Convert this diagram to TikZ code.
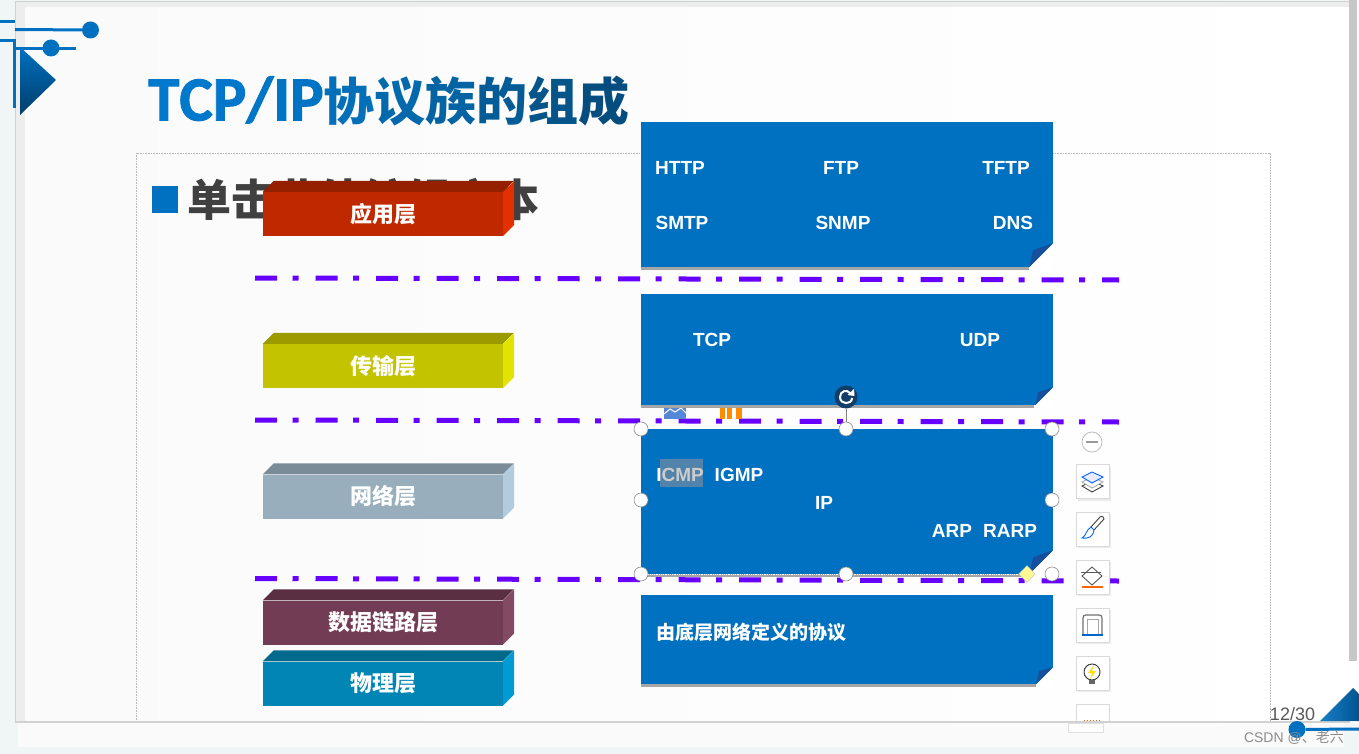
\documentclass[tikz,border=0pt]{standalone}
\usepackage{amssymb,amsmath}
\usepackage{fontspec}
\usepackage{tikz}
\usepackage{color,colortbl}
\usetikzlibrary{shadows,shapes.geometric}
\setmainfont{Liberation Sans}
\newfontfamily\cjk{Noto Sans CJK SC}
\newfontfamily\carlito[BoldFeatures={FakeBold=1.5}]{Carlito}
\definecolor{slidebg}{HTML}{FAFAFA}
\definecolor{outerbg}{HTML}{F0F5F6}
\definecolor{pptblue}{HTML}{0070C0}
\definecolor{foldblue}{HTML}{174F9C}
\definecolor{purpleline}{HTML}{6600FF}
\definecolor{bullettext}{HTML}{404040}
\tikzset{
	layerbox/.style={minimum width=240pt,minimum height=44pt,inner sep=0pt,text=white,font=\cjk\bfseries\fontsize{22}{22}\selectfont},
	protobox/.style={fill=pptblue,draw=none,minimum width=412pt,inner sep=0pt},
	proto/.style={anchor=base,inner sep=0pt,text=white,font=\bfseries\fontsize{19}{19}\selectfont},
	sepline/.style={draw=purpleline,line width=5pt,dash pattern=on 22pt off 15.5pt on 6pt off 17pt},
	handle/.style={circle,draw=black!45,fill=white,line width=0.6pt,minimum size=14pt,inner sep=0pt},
	toolbtn/.style={draw=black!15,fill=white,minimum width=33pt,minimum height=34pt,inner sep=0pt},
	blueline/.style={draw=pptblue,line width=3pt},
	iconline/.style={draw=black!75,line width=0.9pt},
}
\begin{document}
\begin{tikzpicture}[x=1pt,y=-1pt]
		\useasboundingbox (0,0) rectangle (1359,754);
		\fill[outerbg] (0,0) rectangle (1359,754);
		\fill[black!18] (14.5,1) rectangle (1350,722);
		\fill[black!7] (16,2) rectangle (1350,721);
		\shade[left color=slidebg,right color=white] (25,8) rectangle (1349,720);
		
		\fill[white] (1349,0) rectangle (1359,754);
		\fill[black!22] (1349,0) rectangle (1356.5,661);
		
		\coordinate (d1) at (0,22);
		\coordinate (d2) at (15,22);
		\coordinate (d3) at (0,41);
		\coordinate (d4) at (14,41);
		\coordinate (d5) at (14,108);
		\draw[blueline] (d1) -- (d2);
		\draw[blueline] (d3) -- (d4) -- (d5);
		\node[circle,fill=pptblue,minimum size=17pt,inner sep=0pt] (dot1) at (90.5,30) {};
		\node[circle,fill=pptblue,minimum size=17pt,inner sep=0pt] (dot2) at (51,48) {};
		\coordinate (d6) at (15,29.5);
		\coordinate (d7) at (15,48.5);
		\coordinate (d8) at (76,48.5);
		\draw[blueline] (d6) -- (dot1);
		\draw[blueline] (d7) -- (d8);
		\shade[top color=pptblue,bottom color=pptblue!55!black] (20,47) -- (56,80) -- (20,115) -- cycle;
		
		\draw[black!28,line width=0.6pt,densely dotted] (136,153) rectangle (1270,722);
		
		\node[anchor=base west,inner sep=0pt] (title) at (148,120.5) {\carlito\bfseries\fontsize{63}{63}\selectfont\color[HTML]{0078CE}T\color[HTML]{0078CC}C\color[HTML]{0077CA}P\color[HTML]{0076C8}/\color[HTML]{0075C6}I\color[HTML]{0074C4}P\cjk\bfseries\fontsize{51}{51}\selectfont\color[HTML]{026FB8}协\color[HTML]{0369AD}议\color[HTML]{0463A2}族\color[HTML]{045C96}的\color[HTML]{05558A}组\color[HTML]{054D7E}成};
		
		\node[fill=pptblue,minimum size=26pt,inner sep=0pt] (bullet) at (165,199.5) {};
		\node[anchor=base west,inner sep=0pt,text=bullettext,font=\cjk\bfseries\fontsize{44}{44}\selectfont] (body) at (187,216) {单击此处编辑文本};
		
		\node[layerbox,fill={rgb,255:red,192;green,40;blue,0}] (app) at (383,214) {应用层};
		\fill[fill={rgb,255:red,149;green,32;blue,0}] (app.north west) -- ++(11,-11) -- ++(240,0) -- ++(-11,11) -- cycle;
		\fill[fill={rgb,255:red,226;green,48;blue,0}] (app.north east) -- ++(11,-11) -- ++(0,44) -- ++(-11,11) -- cycle;
		
		\node[layerbox,fill={rgb,255:red,195;green,195;blue,0}] (trans) at (383,366) {传输层};
		\fill[fill={rgb,255:red,155;green,155;blue,0}] (trans.north west) -- ++(11,-11) -- ++(240,0) -- ++(-11,11) -- cycle;
		\fill[fill={rgb,255:red,227;green,227;blue,0}] (trans.north east) -- ++(11,-11) -- ++(0,44) -- ++(-11,11) -- cycle;
		
		\node[layerbox,fill={rgb,255:red,152;green,174;blue,189}] (net) at (383,496.5) {网络层};
		\fill[fill={rgb,255:red,122;green,140;blue,152}] (net.north west) -- ++(11,-11) -- ++(240,0) -- ++(-11,11) -- cycle;
		\fill[fill={rgb,255:red,178;green,204;blue,221}] (net.north east) -- ++(11,-11) -- ++(0,44) -- ++(-11,11) -- cycle;
		
		\node[layerbox,fill={rgb,255:red,115;green,60;blue,85}] (link) at (383,622.5) {数据链路层};
		\fill[fill={rgb,255:red,90;green,47;blue,66}] (link.north west) -- ++(11,-11) -- ++(240,0) -- ++(-11,11) -- cycle;
		\fill[fill={rgb,255:red,131;green,74;blue,99}] (link.north east) -- ++(11,-11) -- ++(0,44) -- ++(-11,11) -- cycle;
		
		\node[layerbox,fill={rgb,255:red,0;green,133;blue,181}] (phy) at (383,683.5) {物理层};
		\fill[fill={rgb,255:red,0;green,106;blue,141}] (phy.north west) -- ++(11,-11) -- ++(240,0) -- ++(-11,11) -- cycle;
		\fill[fill={rgb,255:red,0;green,155;blue,210}] (phy.north east) -- ++(11,-11) -- ++(0,44) -- ++(-11,11) -- cycle;
		
		\coordinate (s1a) at (255,278);
		\coordinate (s1b) at (1119,280);
		\coordinate (s2a) at (255,420);
		\coordinate (s2b) at (1119,422);
		\coordinate (s3a) at (255,578.5);
		\coordinate (s3b) at (1119,581);
		\draw[sepline] (s1a) -- (s1b);
		\draw[sepline] (s2a) -- (s2b);
		\draw[sepline] (s3a) -- (s3b);
		
		\fill[fill={rgb,255:red,86;green,134;blue,214}] (664,405) rectangle (686,419);
		\draw[white,line width=1pt] (664,414) -- (670,409) -- (675,412) -- (681,408) -- (686,413);
		\fill[orange!90!yellow] (720,406) rectangle (725,419);
		\fill[orange!90!yellow] (727,405) rectangle (732,419);
		\fill[orange!90!yellow] (736,407) rectangle (742,419);
		
		\node[protobox,minimum height=145pt] (b1) at (847,194.5) {};
		\node[protobox,minimum height=111pt] (b2) at (847,349.5) {};
		\node[protobox,minimum height=145pt] (b3) at (847,501.5) {};
		\node[protobox,minimum height=89pt] (b4) at (847,639.5) {};
		
		\fill[black!35] (b1.south west) rectangle ++(388,2.5);
		\fill[black!35] (b2.south west) rectangle ++(393,2.5);
		\fill[black!35] (b3.south west) rectangle ++(388,2.5);
		\fill[black!35] (b4.south west) rectangle ++(395,2.5);
		
		\fill[white] (b1.south east) ++(0,-24) -- ++(-24,24) -- ++(0,4) -- ++(24,0) -- cycle;
		\fill[foldblue] (b1.south east) ++(0,-24) -- ++(-24,24) -- ++(4,-17) -- cycle;
		\fill[white] (b2.south east) ++(0,-18) -- ++(-18,18) -- ++(0,4) -- ++(18,0) -- cycle;
		\fill[foldblue] (b2.south east) ++(0,-18) -- ++(-18,18) -- ++(3,-13) -- cycle;
		\fill[white] (b3.south east) ++(0,-24) -- ++(-24,24) -- ++(0,2) -- ++(24,0) -- cycle;
		\fill[foldblue] (b3.south east) ++(0,-24) -- ++(-24,24) -- ++(4,-17) -- cycle;
		\fill[white] (b4.south east) ++(0,-17) -- ++(-17,17) -- ++(0,4) -- ++(17,0) -- cycle;
		\fill[foldblue] (b4.south east) ++(0,-17) -- ++(-17,17) -- ++(3,-13) -- cycle;
		
		\node[proto] (http) at (680,174.5) {HTTP};
		\node[proto] (ftp) at (841,174.5) {FTP};
		\node[proto] (tftp) at (1006,174.5) {TFTP};
		\node[proto] (smtp) at (682,229.5) {SMTP};
		\node[proto] (snmp) at (843,229.5) {SNMP};
		\node[proto] (dns) at (1013,229.5) {DNS};
		
		\node[proto] (tcp) at (712,346.5) {TCP};
		\node[proto] (udp) at (980,346.5) {UDP};
		
		\fill[fill={rgb,255:red,82;green,132;blue,171}] (660,459) rectangle (703,487);
		\node[proto] (icmp) at (680,481.5) {I\textcolor{black!20}{CMP}};
		\node[proto] (igmp) at (739,481.5) {IGMP};
		\node[proto] (ip) at (824,509.5) {IP};
		\node[proto] (arp) at (952,537.5) {ARP};
		\node[proto] (rarp) at (1010,537.5) {RARP};
		
		\node[proto,font=\cjk\bfseries\fontsize{19}{19}\selectfont] (lower) at (751,639.5) {由底层网络定义的协议};
		
		\draw[white,line width=0.8pt,densely dotted] (b3.north west) rectangle (b3.south east);
		
		\node[circle,fill={rgb,255:red,16;green,62;blue,104},minimum size=23pt,inner sep=0pt] (rot) at (846,397) {};
		\draw[white,line width=2pt] (852,398) .. controls (852,405) and (840,405) .. (840,397) .. controls (840,391) and (847,389) .. (850,393);
		\fill[white] (854,389) -- (854.5,396) -- (847.5,395) -- cycle;
		\node[handle] (h1) at (641,429) {};
		\node[handle] (h2) at (846,429) {};
		\node[handle] (h3) at (1052,429) {};
		\node[handle] (h4) at (641,500) {};
		\node[handle] (h5) at (1052,500) {};
		\node[handle] (h6) at (641,574) {};
		\node[handle] (h7) at (846,574) {};
		\node[handle] (h8) at (1052,574) {};
		\draw[gray,line width=0.8pt] (rot) -- (h2);
		\node[diamond,aspect=1,fill={rgb,255:red,255;green,250;blue,150},draw=black!25,minimum size=17pt,inner sep=0pt] (adj) at (1027,574) {};
		
		\node[circle,draw=black!25,fill=white,line width=0.8pt,minimum size=20pt,inner sep=0pt] (minus) at (1092,442) {};
		\draw[black!40,line width=2pt] (1086,442) -- (1098,442);
		
		\node[toolbtn,drop shadow={shadow xshift=2pt,shadow yshift=-2pt,opacity=0.15}] (t1) at (1092.5,481.5) {};
		\node[toolbtn,drop shadow={shadow xshift=2pt,shadow yshift=-2pt,opacity=0.15}] (t2) at (1092.5,529) {};
		\node[toolbtn,drop shadow={shadow xshift=2pt,shadow yshift=-2pt,opacity=0.15}] (t3) at (1092.5,577) {};
		\node[toolbtn,drop shadow={shadow xshift=2pt,shadow yshift=-2pt,opacity=0.15}] (t4) at (1092.5,625) {};
		\node[toolbtn,drop shadow={shadow xshift=2pt,shadow yshift=-2pt,opacity=0.15}] (t5) at (1092.5,673) {};
		\node[toolbtn,minimum height=34pt] (t6) at (1092.5,721) {};
		
		\draw[iconline] (1082,486) -- (1092,481) -- (1103,486) -- (1092,492) -- cycle;
		\draw[black!35,line width=0.8pt,fill=white] (1082,482) -- (1092,477) -- (1103,482) -- (1092,488) -- cycle;
		\draw[blue!60!cyan,line width=0.9pt,fill=blue!8] (1082,477) -- (1092,472) -- (1103,477) -- (1092,483) -- cycle;
		
		\draw[iconline] (1094,530) -- (1104,519) -- (1103,517) .. controls (1102,516) and (1101,516) .. (1100,517) -- (1091,527);
		\draw[blue!60!cyan,line width=0.9pt] (1091,527) .. controls (1086,530) and (1086,536) .. (1082,538) .. controls (1088,539) and (1093,537) .. (1094,530) -- cycle;
		
		\draw[black!65,line width=0.9pt] (1092,567) -- (1102,576) -- (1092,585) -- (1082,576) -- cycle;
		\draw[black!65,line width=0.9pt] (1081,572) -- (1101,572);
		\draw[orange!80!red,line width=1.6pt] (1082,587) -- (1103,587);
		
		\draw[black!55,line width=1.2pt] (1083,634) -- (1083,618) .. controls (1083,616) and (1084,615) .. (1086,615) -- (1099,615) .. controls (1101,615) and (1102,616) .. (1102,618) -- (1102,634);
		\draw[black!35,line width=0.8pt] (1087,634) -- (1087,619) -- (1098,619) -- (1098,634);
		\draw[blue!50!cyan!80!black,line width=1.6pt] (1082,635) -- (1103,635);
		
		\node[circle,draw=black!75,line width=1pt,minimum size=16pt,inner sep=0pt] (bulb) at (1092,672) {};
		\fill[yellow!80!orange] (1094,665) -- (1088,673) -- (1092,673) -- (1090,679) -- (1096,671) -- (1092,671) -- cycle;
		\fill[black!60] (1089,680) rectangle (1095,684);
		
		\fill[black!18] (15,721) rectangle (1350,723);
		\fill[slidebg] (18,723) rectangle (1344,747);
		\fill[outerbg] (1344,723) rectangle (1359,754);
		
		\draw[black!12,fill=white] (1068.5,723) rectangle (1103,732);
		\draw[orange!80!red,line width=1pt,dotted] (1084,720) -- (1100,720);
		
		\node[anchor=base,inner sep=0pt,text=black!65,font=\fontsize{18}{18}\selectfont] (page) at (1292.5,720.5) {12/30};
		\shade[left color=pptblue!90!white,right color=pptblue!75!black] (1320,721) -- (1353,688) -- (1359,694) -- (1359,721) -- cycle;
		
		\node[circle,fill=pptblue,minimum size=17pt,inner sep=0pt] (dot3) at (1297,729.5) {};
		\coordinate (d9) at (1359,729);
		\draw[blueline] (dot3) -- (d9);
		
		\node[anchor=base east,inner sep=0pt,text=black!45,font=\fontsize{14}{14}\selectfont] (mark) at (1344,742) {CSDN @{\cjk、老六}};
		
	\end{tikzpicture}
\end{document}
